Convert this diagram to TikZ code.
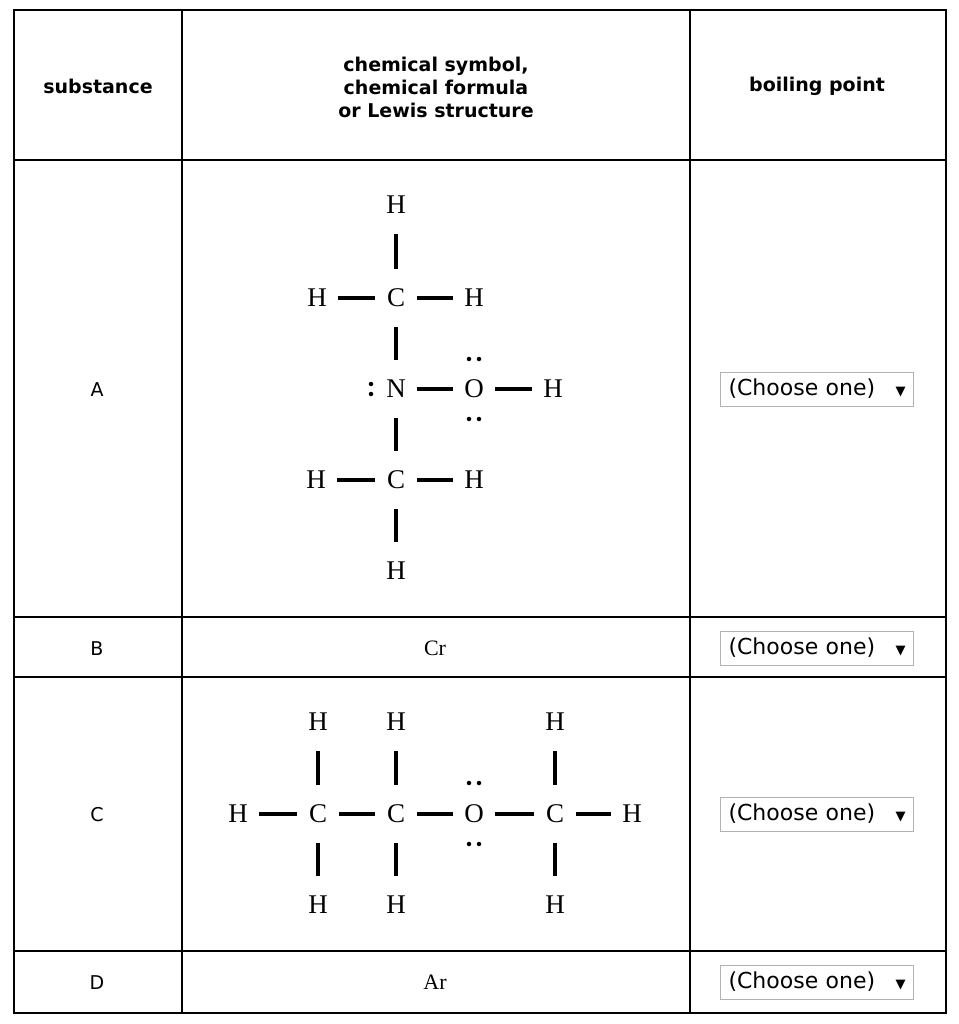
\documentclass[tikz,border=0pt]{standalone}
\usepackage{fontspec}
\setmainfont{Liberation Serif}
\newfontfamily\uifont{DejaVu Sans}
\begin{document}
\begin{tikzpicture}[x=1pt,y=-1pt,
  grid/.style={line width=1.5pt},
  atm/.style={font=\fontsize{27}{27}\selectfont,inner sep=0pt},
  vbond/.style={line width=4.5pt,shorten <=29pt,shorten >=29pt},
  hbond/.style={line width=4.5pt,shorten <=21pt,shorten >=21pt},
  hdr/.style={font=\uifont\bfseries\fontsize{19}{23}\selectfont,align=center},
  lbl/.style={font=\uifont\fontsize{19}{19}\selectfont},
  dd/.style={draw=black!30,line width=1pt,minimum width=193pt,minimum height=34pt,inner sep=0pt,font=\uifont\fontsize{22}{22}\selectfont,text width=177pt,align=left},
  dot/.style={circle,fill=black,inner sep=0pt,minimum size=4.5pt}]
\useasboundingbox (0,0) rectangle (958,1024);
\draw[grid] (14,10) rectangle (946,1013);
\foreach \x in {182,690} \draw[grid] (\x,10) -- (\x,1013);
\foreach \y in {160,617,677,951} \draw[grid] (14,\y) -- (946,\y);
\node[hdr] (h1) at (98,86) {substance};
\node[hdr] (h2) at (436,87) {chemical symbol,\\chemical formula\\or Lewis structure};
\node[hdr] (h3) at (817,86) {boiling point};
\node[lbl] (lA) at (97,390) {A};
\node[lbl] (lB) at (97,649) {B};
\node[lbl] (lC) at (97,815) {C};
\node[lbl] (lD) at (97,983) {D};
\foreach \y/\n in {389/a,648/b,814/c,982/d}
  \node[dd] (dd\n) at (817,\y) {(Choose one)\hfill{\fontsize{13}{13}\selectfont▼}};
% molecule A
\node[atm] (a1) at (396,205) {H};
\node[atm] (a2) at (396,298) {C};
\node[atm] (a3) at (317,298) {H};
\node[atm] (a4) at (474,298) {H};
\node[atm] (a5) at (396,389) {N};
\node[atm] (a6) at (474,389) {O};
\node[atm] (a7) at (553,389) {H};
\node[atm] (a8) at (396,480) {C};
\node[atm] (a9) at (316,480) {H};
\node[atm] (a10) at (474,480) {H};
\node[atm] (a11) at (396,571) {H};
\foreach \a/\b in {a1/a2,a2/a5,a5/a8,a8/a11} \draw[vbond] (\a.center)--(\b.center);
\foreach \a/\b in {a3/a2,a2/a4,a5/a6,a6/a7,a9/a8,a8/a10} \draw[hbond] (\a.center)--(\b.center);
\foreach \p in {(469,359),(479,359),(469,419),(479,419),(371,384),(371,394)} \node[dot] at \p {};
% Cr, Ar
\node[font=\fontsize{22}{22}\selectfont] (cr) at (435,648) {Cr};
\node[font=\fontsize{22}{22}\selectfont] (ar) at (435,982) {Ar};
% molecule C
\node[atm] (c1) at (238,814) {H};
\node[atm] (c2) at (318,814) {C};
\node[atm] (c3) at (396,814) {C};
\node[atm] (c4) at (474,814) {O};
\node[atm] (c5) at (555,814) {C};
\node[atm] (c6) at (632,814) {H};
\node[atm] (c7) at (318,722) {H};
\node[atm] (c8) at (396,722) {H};
\node[atm] (c9) at (555,722) {H};
\node[atm] (c10) at (318,905) {H};
\node[atm] (c11) at (396,905) {H};
\node[atm] (c12) at (555,905) {H};
\foreach \a/\b in {c1/c2,c2/c3,c3/c4,c4/c5,c5/c6} \draw[hbond] (\a.center)--(\b.center);
\foreach \a/\b in {c7/c2,c8/c3,c9/c5,c2/c10,c3/c11,c5/c12} \draw[vbond] (\a.center)--(\b.center);
\foreach \p in {(469,783),(479,783),(469,844),(479,844)} \node[dot] at \p {};
\end{tikzpicture}
\end{document}
